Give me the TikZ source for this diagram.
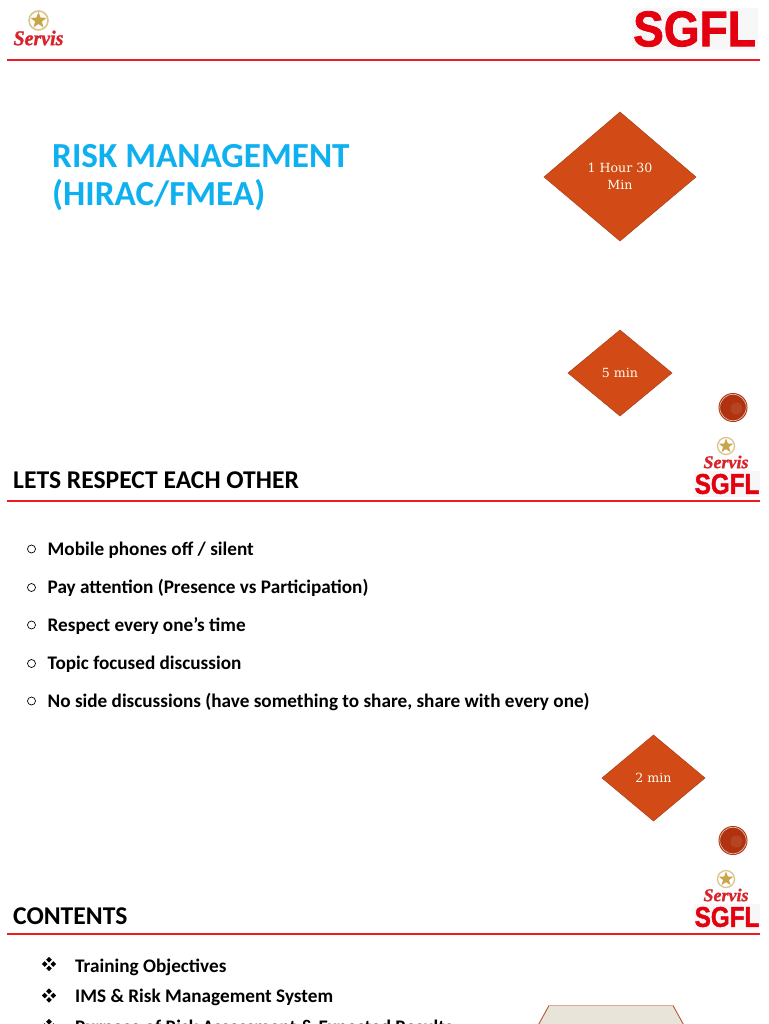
\documentclass[tikz,border=0pt]{standalone}
\usepackage{fontspec}
\usetikzlibrary{shapes.geometric}
\setmainfont{Carlito}
\newfontfamily\slab{DejaVu Serif}
\newfontface\logofont[FakeBold=1.2]{Liberation Serif Bold Italic}
\newfontface\sgflfont[FakeBold=1.6]{Liberation Sans Bold}
\definecolor{rulered}{HTML}{F01A22}
\definecolor{titleblue}{HTML}{0FB0F0}
\definecolor{dia}{HTML}{D24A16}
\definecolor{diaedge}{HTML}{A8421C}
\definecolor{logored}{HTML}{D8232A}
\definecolor{sgflred}{HTML}{E5000F}
\definecolor{stargold}{HTML}{C9A54A}
\definecolor{ringgold}{HTML}{DCC58A}
\definecolor{dotred}{HTML}{AE330E}
\definecolor{hexfill}{HTML}{E8E4DA}
\definecolor{hexedge}{HTML}{B9552F}
\definecolor{hextop}{HTML}{E3A68F}
\tikzset{
  sep/.style={draw=rulered,line width=1.6pt},
  heading/.style={anchor=base west,inner sep=0pt,font=\fontsize{25.6}{26}\selectfont\bfseries},
  item/.style={anchor=base west,inner sep=0pt,font=\fontsize{19.2}{20}\selectfont\bfseries},
  title/.style={anchor=base west,inner sep=0pt,text=titleblue,font=\fontsize{35.2}{36}\selectfont\bfseries},
  timer/.style={draw=diaedge,fill=dia,line width=.5pt},
  timertext/.style={text=white!94!yellow,align=center,inner sep=0pt,font=\slab\fontsize{12.6}{17}\selectfont},
  bullet/.style={draw=black,line width=.7pt,circle,inner sep=0pt,minimum size=8pt},
  starmark/.style={star,star points=5,star point ratio=2.4,fill=stargold,inner sep=0pt},
  servis/.style={inner sep=0pt,text=logored},
  sgfl/.style={inner sep=0pt,text=sgflred}
}
\begin{document}
\begin{tikzpicture}[x=1pt,y=-1pt]
\useasboundingbox[clip] (0,0) rectangle (768,1024);
\fill[white] (0,0) rectangle (768,1024);
% top logos
\draw[ringgold,line width=1.6pt] (38.5,20.5) circle (9.5);
\node[starmark,minimum size=17pt] (s1) at (38.5,20.5) {};
\node[servis,font=\logofont\fontsize{21}{21}\selectfont,xscale=.95] (v1) at (38.5,38) {Servis};
\fill[black!3] (632,8) rectangle (758,50);
\node[sgfl,font=\sgflfont\fontsize{50}{50}\selectfont,xscale=.92] (g1) at (694.5,29) {SGFL};
\draw[sep] (7,60) -- (760,60);
% title
\node[title] (t1) at (52,168) {RISK MANAGEMENT};
\node[title] (t2) at (52,206) {(HIRAC/FMEA)};
% diamonds
\fill[timer] (620,112) -- (696,177) -- (620,241) -- (544,177) -- cycle;
\node[timertext] (d1) at (620,176.5) {1 Hour 30\\Min};
\fill[timer] (620,330) -- (672,373) -- (620,416) -- (568,373) -- cycle;
\node[timertext] (d2) at (620,372.5) {5 min};
\fill[timer] (653.5,735) -- (705,778) -- (653.5,821) -- (602,778) -- cycle;
\node[timertext] (d3) at (653.5,777.5) {2 min};
% red dots
\foreach \cy in {407.5,840.5}{
  \fill[dotred] (733,\cy) circle (14.5);
  \draw[white!65!dotred,line width=.7pt] (733,\cy) circle (13.2);
  \fill[white!25!dotred,opacity=.35] (736.5,\cy+1) circle (6);
}
% second slide
\draw[ringgold,line width=1.3pt] (726,446) circle (8.5);
\node[starmark,minimum size=15pt] (s2) at (726,446) {};
\node[servis,font=\logofont\fontsize{18}{18}\selectfont] (v2) at (726,462) {Servis};
\fill[black!3] (694,471) rectangle (760,497);
\node[sgfl,font=\sgflfont\fontsize{28.5}{28}\selectfont,xscale=.85] (g2) at (727,484) {SGFL};
\node[heading] (h2) at (13,488) {LETS RESPECT EACH OTHER};
\draw[sep] (7,501) -- (760,501);
\foreach \yy/\txt [count=\i] in {555/{Mobile phones off / silent},593.5/{Pay attention (Presence vs Participation)},631/{Respect every one’s time},669.5/{Topic focused discussion},707/{No side discussions (have something to share, share with every one)}}{
  \node[bullet] (b\i) at (31.5,\yy-6) {};
  \node[item] (i\i) at (47.5,\yy) {\txt};
}
% third slide
\draw[ringgold,line width=1.3pt] (726,879) circle (8.5);
\node[starmark,minimum size=15pt] (s3) at (726,879) {};
\node[servis,font=\logofont\fontsize{18}{18}\selectfont] (v3) at (726,895) {Servis};
\fill[black!3] (694,904) rectangle (760,930);
\node[sgfl,font=\sgflfont\fontsize{28.5}{28}\selectfont,xscale=.85] (g3) at (727,917) {SGFL};
\node[heading] (h3) at (13,924) {CONTENTS};
\draw[sep] (7,934) -- (760,934);
\foreach \yy/\txt/\by [count=\i] in {972/{Training Objectives}/964,1002.5/{IMS \& Risk Management System}/995.5,1033/{Purpose of Risk Assessment \& Expected Results}/1026}{
  \foreach \dx/\dy in {-4.3/0,4.3/0,0/-4.3,0/4.3}{
    \fill[black] (49+\dx-2.8,\by+\dy) -- (49+\dx,\by+\dy-2.8) -- (49+\dx+2.8,\by+\dy) -- (49+\dx,\by+\dy+2.8) -- cycle;
  }
  \node[item] (c\i) at (75,\yy) {\txt};
}
\fill[hexfill] (549,1005.5) -- (673,1005.5) -- (692,1040) -- (530,1040) -- cycle;
\draw[hexedge,line width=.9pt] (530,1040) -- (549,1005.5);
\draw[hexedge,line width=.9pt] (673,1005.5) -- (692,1040);
\draw[hextop,line width=1.3pt] (549,1005.5) -- (673,1005.5);
\end{tikzpicture}
\end{document}
